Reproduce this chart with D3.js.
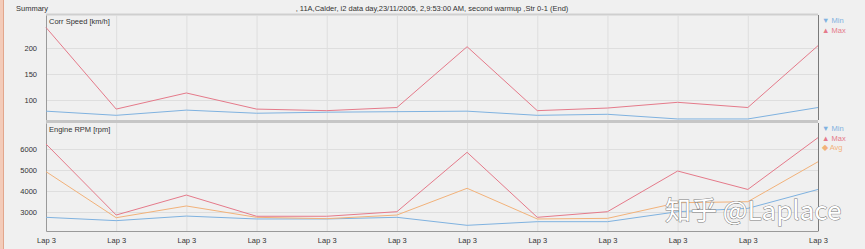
<!DOCTYPE html>
<html>
<head>
<meta charset="utf-8">
<script src="https://cdn.jsdelivr.net/npm/d3@7"></script>
<style>
  body { margin: 0; background: #f0f0f0; }
  svg { display: block; font-family: "Liberation Sans", Arial, sans-serif; }
</style>
</head>
<body>
<svg id="chart" width="865" height="249"></svg>
<script>
// Datos del gráfico
const laps = ['Lap 3','Lap 3','Lap 3','Lap 3','Lap 3','Lap 3','Lap 3','Lap 3','Lap 3','Lap 3','Lap 3','Lap 3'];
const speedMax = [240, 83, 114, 83, 80, 86, 203, 80, 85, 96, 86, 205];
const speedMin = [79, 71, 81, 75, 77, 78, 79, 71, 73, 64, 64, 86];
const rpmMax = [6255, 2840, 3800, 2780, 2780, 3000, 5855, 2730, 3000, 4955, 4070, 6560];
const rpmAvg = [4925, 2710, 3275, 2730, 2665, 2840, 4125, 2650, 2680, 3430, 3480, 5400];
const rpmMin = [2730, 2570, 2790, 2650, 2650, 2730, 2345, 2520, 2520, 3000, 3160, 4070];
const speedTicks = [100, 150, 200];
const rpmTicks = [3000, 4000, 5000, 6000];

const FONT = '"Liberation Sans", Arial, sans-serif';
const svg = d3.select('#chart');
const left = 46, right = 818;

// Borde lateral izquierdo
svg.append('rect').attr('x', 0).attr('y', 0).attr('width', 3).attr('height', 249).attr('fill', '#f3cbb9');
svg.append('line').attr('x1', 3.5).attr('x2', 3.5).attr('y1', 0).attr('y2', 249).attr('stroke', '#e2a68c');

// Títulos
svg.append('text').attr('x', 16).attr('y', 11).attr('font-size', 7.5).attr('fill', '#333').text('Summary');
svg.append('text').attr('x', 432).attr('y', 11).attr('font-size', 7.5).attr('fill', '#333')
  .attr('text-anchor', 'middle')
  .text(', 11A,Calder, i2 data day,23/11/2005, 2,9:53:00 AM, second warmup ,Str 0-1 (End)');

const x = d3.scalePoint().domain(d3.range(laps.length)).range([left, right]);

// Función para dibujar un panel
function drawPanel(cfg) {
  const y = d3.scaleLinear().domain(cfg.domain).range([cfg.bottom, cfg.top]);
  const g = svg.append('g');

  // Rejilla
  g.selectAll('.vg').data(d3.range(laps.length)).enter().append('line')
    .attr('x1', d => x(d) + 0.5).attr('x2', d => x(d) + 0.5)
    .attr('y1', cfg.top).attr('y2', cfg.bottom)
    .attr('stroke', '#dedede');
  g.selectAll('.hg').data(cfg.ticks).enter().append('line')
    .attr('x1', left).attr('x2', right)
    .attr('y1', d => Math.round(y(d)) + 0.5).attr('y2', d => Math.round(y(d)) + 0.5)
    .attr('stroke', '#dedede');

  // Eje Y
  const ax = g.append('g').attr('transform', `translate(${left},0)`)
    .call(d3.axisLeft(y).tickValues(cfg.ticks).tickFormat(d3.format('d')).tickSize(0).tickPadding(9));
  ax.select('.domain').attr('stroke', '#9a9a9a');
  ax.selectAll('text').attr('font-size', 7.5).attr('fill', '#333').attr('font-family', FONT);

  // Etiqueta del panel
  g.append('text').attr('x', left + 3).attr('y', cfg.top + 9).attr('font-size', 7.5).attr('fill', '#333').text(cfg.label);

  // Líneas
  const line = d3.line().x((d, i) => x(i)).y(d => y(d));
  cfg.series.forEach(s => {
    g.append('path').datum(s.values)
      .attr('fill', 'none').attr('stroke', s.color).attr('stroke-width', 1)
      .attr('d', line);
  });

  // Leyenda
  cfg.series.slice().sort((a, b) => a.order - b.order).forEach((s, i) => {
    g.append('text').attr('x', 822).attr('y', cfg.top + 8 + i * 9.5)
      .attr('font-size', 7.5).attr('fill', s.color).text(s.symbol + ' ' + s.name);
  });

  // Borde derecho
  g.append('line').attr('x1', right + 0.5).attr('x2', right + 0.5)
    .attr('y1', cfg.top).attr('y2', cfg.bottom).attr('stroke', '#7a7a7a');
  return y;
}

// Borde superior
svg.append('line').attr('x1', left).attr('x2', right).attr('y1', 14.5).attr('y2', 14.5).attr('stroke', '#cfcfcf').attr('stroke-width', 2);

drawPanel({
  top: 15, bottom: 120, domain: [62, 264], ticks: speedTicks, label: 'Corr Speed [km/h]',
  series: [
    { name: 'Min', values: speedMin, color: '#7fb2e0', symbol: '▼', order: 0 },
    { name: 'Max', values: speedMax, color: '#e57a8a', symbol: '▲', order: 1 }
  ]
});

// Separador
svg.append('rect').attr('x', left).attr('y', 120).attr('width', right - left).attr('height', 3).attr('fill', '#c6c6c6');

drawPanel({
  top: 123, bottom: 231, domain: [2072, 7264], ticks: rpmTicks, label: 'Engine RPM [rpm]',
  series: [
    { name: 'Min', values: rpmMin, color: '#7fb2e0', symbol: '▼', order: 0 },
    { name: 'Avg', values: rpmAvg, color: '#f2b27a', symbol: '◆', order: 2 },
    { name: 'Max', values: rpmMax, color: '#e57a8a', symbol: '▲', order: 1 }
  ]
});

// Eje X
const xa = svg.append('g').attr('transform', 'translate(0,231)')
  .call(d3.axisBottom(x).tickFormat(i => laps[i]).tickSize(0).tickPadding(7));
xa.select('.domain').attr('stroke', '#9a9a9a');
xa.selectAll('text').attr('font-size', 7.5).attr('fill', '#333').attr('font-family', FONT);

// Marca de agua
svg.append('text').attr('x', 665).attr('y', 220).attr('font-size', 26)
  .attr('font-family', '"Noto Sans CJK SC", sans-serif')
  .attr('fill', '#ffffff').attr('stroke', '#7d7d7d').attr('stroke-width', 1)
  .attr('paint-order', 'stroke')
  .text('知乎 @Laplace');
</script>
</body>
</html>
